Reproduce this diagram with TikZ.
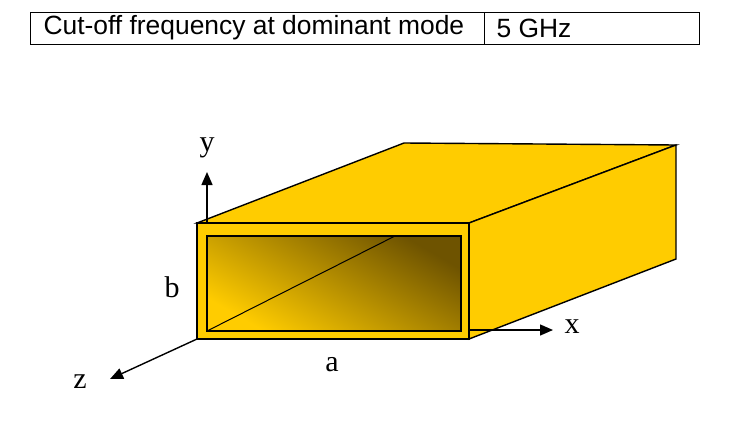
\documentclass[tikz,border=0pt]{standalone}
\usepackage{fontspec}
\usetikzlibrary{arrows.meta}
\setmainfont{Liberation Serif}
\newfontfamily\arialf{Liberation Sans}
\definecolor{gold}{HTML}{FFCC00}
\definecolor{dk}{HTML}{6E5300}
\begin{document}
\begin{tikzpicture}[x=1pt,y=-1pt,line join=miter,
  face/.style={draw=black,fill=gold,line width=1.4pt},
  ax/.style={-{Triangle[length=13pt,width=11pt]},line width=1.4pt},
  lab/.style={font=\fontsize{30}{30}\selectfont}]
\useasboundingbox (0,0) rectangle (738,434);
% table
\draw[line width=1pt] (30,12) rectangle (699,44);
\draw[line width=1pt] (484,12) -- (484,44);
\node[anchor=west,font=\arialf\fontsize{26.4}{26.4}\selectfont] (t1) at (40,28) {Cut-off frequency at dominant mode};
\node[anchor=west,font=\arialf\fontsize{26.4}{26.4}\selectfont] (t2) at (493,28) {5 GHz};
% waveguide
\coordinate (A) at (197,223); \coordinate (B) at (469,223);
\coordinate (C) at (469,339); \coordinate (D) at (197,339);
\coordinate (E) at (404,143); \coordinate (F) at (676,145);
\coordinate (G) at (676,259);
\draw[face] (A) -- (E) -- (F) -- (B) -- cycle;
\draw[face] (B) -- (F) -- (G) -- (C) -- cycle;
\draw[face] (A) rectangle (C);
\shade[shading=axis,top color=dk,bottom color=gold,shading angle=-30] (207,236) rectangle (461,331);
\draw[line width=1.4pt] (207,236) rectangle (461,331);
\draw[line width=1pt] (207,331) -- (395,236);
% axes
\coordinate (yo) at (207,223); \coordinate (ye) at (207,172);
\coordinate (xo) at (469,330); \coordinate (xe) at (553,330);
\coordinate (zo) at (197,339); \coordinate (ze) at (110,379);
\draw[ax] (yo) -- (ye);
\draw[ax] (xo) -- (xe);
\draw[ax] (zo) -- (ze);
\node[lab] (ly) at (207,148) {y};
\node[lab] (lx) at (572,327) {x};
\node[lab] (lz) at (80,382) {z};
\node[lab] (lb) at (172,287) {b};
\node[lab] (la) at (332,365) {a};
\end{tikzpicture}
\end{document}
